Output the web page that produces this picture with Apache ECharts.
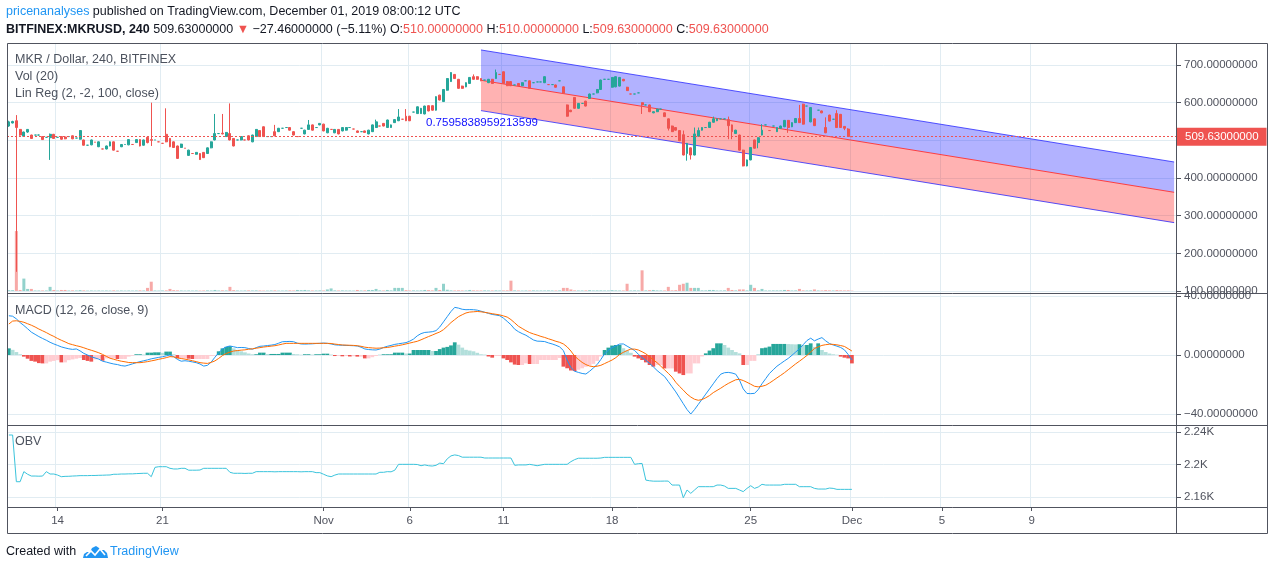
<!DOCTYPE html>
<html><head><meta charset="utf-8">
<script src="https://cdn.jsdelivr.net/npm/echarts@6/dist/echarts.min.js"></script>
<style>html,body{margin:0;padding:0;background:#fff}#chart{width:1274px;height:570px}</style>
</head><body><div id="chart"></div>
<script>
// ---- data: candles [open, close, low, high], one per 4h bar ----
const candles = [
[538,549,536,552],[546,550,545,552],[552,534,151,567],[529,514,512,530],[511,522,510,523],
[522,529,520,530],[514,505,504,515],[514,514,514,514],[514,514,513,515],[510,502,501,511],
[508,508,508,508],[507,516,448,518],[516,505,504,517],[508,508,508,508],[510,503,502,511],
[509,504,503,510],[510,510,510,510],[512,504,503,513],[506,506,506,506],[503,526,502,527],
[501,487,486,502],[487,487,487,487],[488,501,487,502],[495,495,495,495],[483,496,482,497],
[477,477,477,477],[477,485,476,486],[485,496,484,497],[496,474,473,497],[471,471,471,471],
[483,489,482,490],[489,489,489,489],[488,502,487,503],[489,489,489,489],[494,502,493,503],
[502,485,484,503],[487,501,486,502],[508,494,492,510],[502,500,485,600],[501,501,501,501],
[496,496,496,496],[492,492,492,492],[516,496,495,585],[505,483,482,506],[496,481,480,497],
[485,452,451,486],[481,490,480,491],[479,479,479,479],[460,474,459,475],[465,465,465,465],
[463,468,462,469],[465,449,448,466],[468,454,453,469],[465,480,464,481],[480,496,479,497],
[501,518,500,570],[518,518,518,518],[519,517,516,570],[510,521,509,522],[518,501,500,598],
[505,485,484,506],[501,501,501,501],[501,510,500,511],[501,501,501,501],[512,501,500,513],
[496,514,495,515],[510,529,509,530],[526,510,509,527],[536,510,509,537],[510,510,510,510],
[510,510,510,510],[523,512,511,541],[523,532,522,533],[532,532,532,532],[534,534,534,534],
[534,527,526,535],[523,514,513,524],
[510,510,510,510],[532,532,532,532],[517,527,516,528],[529,541,528,554],[541,527,526,542],
[534,534,534,534],[541,545,540,546],[543,525,524,544],[520,532,519,533],[529,529,529,529],
[520,529,519,530],[529,517,516,530],[525,534,524,535],[527,534,526,535],[534,534,534,534],
[530,530,530,530],[525,521,520,526],[523,523,523,523],[525,521,520,526],[517,527,516,528],
[523,541,522,542],[534,549,533,555],[538,538,538,538],[545,538,537,546],[534,554,533,555],
[534,541,533,542],[547,555,546,556],[552,562,551,583],[556,556,556,556],[564,552,551,583],
[564,552,551,565],[575,575,575,575],[571,589,570,590],[571,585,570,586],[570,591,569,592],
[592,578,577,593],[592,580,579,593],[580,616,579,617],[620,607,606,621],[603,635,602,636],
[633,664,632,665],[656,680,655,681],[675,664,663,676],[662,638,637,663],[644,638,637,645],
[642,653,641,654],[651,667,650,668],[669,662,661,675],[669,662,661,670],[664,658,657,665],
[660,660,660,660],[653,662,652,663],[662,651,650,663],[664,680,663,688],[675,675,675,675],
[682,651,650,683],[656,645,644,657],[656,645,644,657],[647,647,647,647],[651,645,644,652],
[645,653,644,654],[658,658,658,658],[658,638,637,659],[653,653,653,653],[655,655,655,655],
[655,655,655,655],[653,669,652,670],[648,648,648,648],[648,648,648,648],[647,641,640,648],
[658,658,658,658],[642,625,624,643],[594,564,563,595],[580,576,575,581],[614,585,584,615],
[585,598,584,599],[598,598,598,598],[604,591,590,605],
[611,623,610,624],[623,623,623,623],[626,635,625,636],[635,660,634,661],[662,662,662,662],
[662,662,662,662],[641,667,640,668],[642,669,641,670],[644,667,643,668],[662,658,657,663],
[641,632,631,642],[623,623,623,623],[623,623,623,623],[626,626,626,626],[600,594,570,601],
[594,594,594,594],[594,576,575,595],[573,576,572,577],[576,583,575,584],[583,583,583,583],
[573,563,562,574],[557,532,526,558],[538,523,522,539],[534,527,526,535],[526,499,498,527],
[515,461,460,526],[465,492,446,493],[480,461,449,481],[461,517,460,534],[511,526,510,534],
[527,534,526,535],[534,534,534,534],[534,548,533,549],[548,557,547,563],[552,557,551,558],
[557,557,557,557],[557,557,557,557],[555,539,503,563],[541,523,503,542],[518,527,517,528],
[514,474,473,515],[474,432,431,475],[432,448,431,449],[448,481,447,482],[501,479,478,502],
[494,507,479,508],[514,527,513,543],[541,541,541,541],[526,526,526,526],[538,538,538,538],
[523,534,522,535],[532,538,531,539],[536,553,535,554],[553,534,520,554],[536,547,535,548],
[547,558,546,559],[558,547,546,594],[596,543,542,597],[591,591,591,591],[549,587,548,588],
[557,539,538,558],[580,580,580,580],[578,573,572,579],[534,520,519,561],[567,551,550,568],
[556,556,556,556],[571,534,533,580],[569,534,533,570],[537,532,527,538],[530,510,509,532],
[510,509.63,509.63,510]
];
const volumes = [
0.8,0.8,58,1,12,2,2,0.5,0.5,0.5,
0.5,4,1,0.5,1,1,0.5,0.6,0.5,0.8,
0.6,0.4,0.5,0.4,0.5,0.4,0.5,0.4,0.6,0.4,
0.5,0.4,0.5,0.4,0.5,0.6,0.5,3,9,0.5,
0.4,0.5,0.6,2,0.8,0.6,0.5,0.4,0.5,0.4,
0.5,0.4,0.5,0.6,0.5,1,0.5,0.6,0.5,4,
0.8,0.5,0.4,0.5,0.6,0.5,0.6,0.5,0.4,0.4,
0.5,0.6,0.4,0.4,0.5,0.6,0.5,1,0.8,1,
0.6,0.5,0.5,0.6,0.5,1.5,2.5,0.6,0.5,0.6,
0.5,0.5,0.4,1,0.5,0.6,1,1,2,0.6,
0.5,1,0.6,3,3,3,0.8,0.5,0.6,0.5,
0.6,1,0.8,0.6,3,1,7,1.2,0.6,0.5,
0.6,0.5,0.5,1,0.6,0.5,0.5,0.6,0.5,0.5,
0.6,0.5,0.5,0.6,10,0.6,0.5,0.4,0.5,0.5,
0.6,0.5,0.5,0.5,0.6,0.5,0.5,0.6,3,3,
1.5,0.6,0.5,0.5,0.6,0.8,0.5,0.6,0.6,0.5,
0.5,0.8,0.6,0.5,0.5,7,0.5,0.6,0.5,20,
0.6,0.8,1,0.6,0.5,0.5,4,0.6,0.8,6,
7,8,3,3,3,0.6,0.6,1,1,0.5,
0.5,0.6,3,1,0.6,1.5,1.5,0.6,6,3,
0.6,2,0.5,0.5,0.6,0.6,0.6,1,1,0.5,
0.6,2,0.6,0.5,0.6,1.5,0.5,0.5,0.8,0.6,
0.5,0.8,0.6,0.5,0.6,0.3
];
const macdLine = [
26.6,26.3,24.5,22,20,17.8,15.5,14,12.5,11.2,
10,8.6,7.5,6.5,5.5,4.8,4.2,3.8,4.1,2.8,
1.1,0,-1.2,-2,-2.8,-4.2,-4.8,-5.5,-6.1,-6.5,
-7.2,-7.5,-6.8,-6,-5.2,-4.5,-3.9,-3.3,-2.6,-2.1,
-1.6,-1.2,-0.6,0,-1.1,-3,-4.2,-3.9,-4.2,-4.7,
-5.2,-6.1,-7.5,-7,-4.8,-1.5,1.5,4,5.5,6.1,
5.6,5,5.1,5,4.4,3.9,5,5.9,6.1,6.4,
6.7,7.1,8,9,9.1,9.2,9,8,7.5,7.4,
7.5,7.6,7.8,7.9,8.1,7.9,7.5,6.9,6.7,6.6,
6.5,6.4,6.3,6.1,5.3,4.1,3.7,3.5,3.4,4,
5.1,5.9,6.5,7.2,7.6,8,8.4,9.4,10.8,13,
14.5,15.3,15.5,15.8,16.5,19,22.5,26,29.5,32.3,
31.8,31,30.7,30.8,30.7,30.4,29.7,29,28.2,27.5,
27.1,26.6,25,22.8,20.5,17.5,15.8,14.5,13.4,11.8,
10.2,9.4,9.3,9.1,8.2,7.5,6.6,5.5,3,-3.5,
-8.5,-11,-11.8,-12.5,-12.9,-11,-8.8,-6.5,-3,0.8,
3.2,5,6.2,7.4,7.5,6,4.5,3.1,0.5,-1.8,
-3.6,-5.7,-8,-10.5,-12.6,-14.6,-18,-21.5,-25,-29,
-33,-37,-40,-37,-33.5,-30,-26.5,-23,-19.5,-16,
-13,-12,-11.8,-12.2,-13,-17,-23,-26.1,-26.2,-26,
-23.5,-19.5,-16,-12.5,-10,-7.6,-5.8,-4,-2.3,-0.2,
2,4.2,7,9.8,11.4,9.6,10.8,11.8,9.6,7.8,
6.8,6,5.1,3.5,0.4,-3.4
];
const signalLine = [
21,23,23.2,22.8,22.2,21.2,20.2,19,17.6,16.4,
15.2,13.8,12.6,11.2,10,8.9,7.7,7,6.3,5.7,
4.9,4,3.2,2.4,1.5,0.4,-0.9,-2.2,-2.9,-3.6,
-4.2,-4.6,-5.1,-5.2,-5.2,-5.2,-4.9,-4.5,-4,-3.5,
-2.9,-2.4,-1.8,-1.1,-1.3,-1.9,-2.4,-2.8,-3.3,-3.9,
-4.5,-5.2,-5.5,-5.7,-5,-4,-2.3,-0.4,1,2,
2.7,3,3.3,3.5,3.9,4.2,4.6,5,5.4,5.7,
6,6.3,6.8,7.4,7.9,7.9,7.9,7.9,7.9,7.9,
7.9,7.9,7.9,7.9,7.9,7.9,7.8,7.4,7.1,6.8,
6.7,6.6,6.5,6.3,5.9,5.3,5,4.8,4.6,4.7,
4.9,5.1,5.5,6,6.4,6.9,7.5,8.1,8.7,9.3,
10.3,11.4,12.5,13.5,14.6,15.6,17.2,19.5,22,24,
26,27.3,28.5,29.1,29.3,29.5,29.3,28.9,28.5,28,
27.6,27.2,26.5,25.7,24,21.8,19.5,18,16.5,15.2,
14.3,13.5,12.6,11.9,11,10.2,9.3,8.6,7.5,5.5,
2.7,-0.8,-3,-5,-6.5,-7.5,-7.9,-7.6,-7,-5.8,
-4.6,-3.4,-1.8,0.4,1.8,3,4,4,3.4,2.2,
0.8,-1.2,-3.3,-5.2,-7.6,-10,-12.4,-15,-18.5,-21.3,
-23.8,-26.5,-28.5,-30,-30.7,-30.2,-29,-27.5,-25.5,-24,
-22.5,-20.8,-19.3,-18,-16.8,-16.5,-17.3,-18.5,-19.8,-21.2,
-21.6,-21.2,-20.5,-19,-17.3,-15.5,-13.8,-12,-10,-8,
-6,-4.2,-2.3,-0.3,2,4.4,5.5,6.5,7,7.3,
7.2,6.9,6.4,5.8,4.3,2.7
];
const macdHist = [
4.5,3.5,2,0.5,-1.1,-2.5,-4,-4.5,-5.5,-5.7,
-5.7,-4.5,-4,-3.5,-5,-5,-3.5,-3,-2.5,-2,
-3.4,-4,-4.5,-3,-2.5,-3.9,-2.3,-2.3,-2.3,-2.7,
-2.7,-2.7,-1.1,-0.5,0.5,0.5,0.3,1.6,1.6,1.8,
1.8,1.5,2.3,2.3,0.5,-2.3,-2.3,-2.3,-2.5,-2.7,
-2.7,-2.7,-2.7,-2.7,-0.7,-0.5,2.5,4.5,5.5,6,
4.5,3.5,2.5,1.8,1,0.5,0.5,1.6,1.6,0.7,
0.7,0.7,0.7,1.6,1.6,1.6,0.7,0.5,0.2,0.5,
0.5,0.3,0.5,0.5,0.9,0.9,0.3,-0.7,-0.5,-0.9,
-0.7,-1,-0.8,-1.1,-1.1,-2.3,-2.3,-1.5,-0.7,0.1,
0.5,0.5,0.5,1.6,1.6,1.6,1,1,3.4,3.4,
3.4,3.4,3.4,2.7,2.7,4,5,5.5,6.5,8.6,
7,5,3.5,3,2.5,1.5,0.5,0.3,-1,-1.8,
-0.7,-0.7,-2.3,-3.4,-5,-6.5,-6.8,-6.8,-5.7,-6.1,
-6.1,-6.1,-3.4,-3.4,-3.4,-3.4,-3.4,-2,-7.9,-9,
-10.5,-10.9,-10,-9,-8,-7,-6,-4,-1,3.4,
5,6.4,6.8,6.8,4.6,3,1.5,-1.1,-2.3,-3.4,
-5,-6.8,-7.9,-6.8,-6.8,-9.1,-9.1,-9.1,-11.3,-12.5,
-13.6,-12.5,-12.5,-5.7,-5.7,-1,1.1,3,4.6,7.9,
7.9,6.8,5,3.4,2,1.1,-6.8,-6.8,-4,-4,
0.2,4.6,5,5.7,7.5,7.5,7.5,7.5,7.4,7.3,
7.2,7.3,6.8,6.8,7.9,5.5,7.9,3.4,2,1,
0.5,0.2,-1.1,-1.8,-2.3,-5.7
];
const obv = [
2236.3,2236.3,2178.8,2178.8,2191.2,2188.0,2185.8,2185.8,2185.6,2185.8,
2191.2,2188.3,2188.3,2187.0,2185.0,2185.4,2185.5,2185.8,2186.0,2186.3,
2186.3,2186.3,2186.5,2186.5,2186.7,2186.8,2187.0,2187.1,2188.0,2188.0,
2188.3,2188.3,2188.5,2188.5,2188.8,2189.0,2189.2,2189.2,2185.0,2196.5,
2197.3,2197.3,2197.3,2195.3,2194.5,2194.5,2195.3,2195.3,2193.0,2193.0,
2193.0,2193.2,2195.3,2195.3,2195.3,2195.3,2195.3,2195.3,2195.3,2190.4,
2189.2,2189.2,2189.2,2189.0,2189.2,2189.2,2191.2,2191.2,2191.2,2191.2,
2191.2,2191.0,2191.2,2191.2,2191.2,2191.2,2191.2,2191.2,2191.0,2191.2,
2191.2,2191.2,2190.0,2190.0,2188.0,2186.0,2185.0,2187.0,2188.3,2188.3,
2188.3,2188.3,2188.3,2188.3,2188.3,2188.3,2188.3,2188.3,2188.3,2190.4,
2190.4,2191.2,2191.0,2193.0,2200.2,2200.2,2200.2,2200.2,2200.2,2200.0,
2198.5,2199.5,2198.5,2198.1,2199.0,2201.7,2201.0,2207.0,2210.6,2211.8,
2211.0,2209.0,2209.0,2209.0,2209.0,2209.0,2209.0,2208.0,2208.0,2208.0,
2208.0,2208.0,2208.0,2208.0,2208.0,2199.0,2199.5,2199.5,2199.5,2200.2,
2199.4,2198.5,2199.4,2200.2,2200.2,2200.2,2200.2,2200.2,2200.2,2200.2,
2203.5,2206.0,2207.7,2207.7,2207.7,2207.7,2207.7,2207.7,2208.0,2208.8,
2208.8,2208.8,2208.8,2208.8,2208.8,2208.8,2208.8,2200.2,2201.0,2201.3,
2180.8,2180.0,2179.5,2179.5,2179.5,2179.6,2179.6,2174.7,2174.7,2174.7,
2159.1,2168.6,2164.5,2168.6,2172.7,2172.7,2172.7,2172.7,2172.7,2174.7,
2174.7,2173.5,2170.6,2170.6,2170.6,2168.6,2166.6,2170.6,2173.9,2170.6,
2172.3,2175.6,2174.7,2174.7,2174.7,2174.7,2174.7,2175.6,2175.6,2175.6,
2175.6,2172.7,2172.7,2172.7,2172.7,2170.6,2169.8,2169.8,2169.8,2171.0,
2170.6,2169.4,2169.4,2169.4,2169.4,2169.4
];
// slots on the time axis (past bars + empty future bars)
const slotCount = 312;
const tickIdx = [13, 41, 84, 107, 132, 161, 198, 225, 249, 273];
const tickText = ['14', '21', 'Nov', '6', '11', '18', '25', 'Dec', '5', '9'];
// linear regression channel
const linRegStartIdx = 126, linRegEndIdx = 311;
const linRegStartMid = 659.4, linRegEndMid = 362, linRegDev = 80.5;
const pearsonR = '0.7595838959213599';
const lastPrice = 509.63;

// ---- chart ----
const FONT = '"Liberation Sans", Arial, sans-serif';
const GRID = '#e1ecf2', FRAME = '#50535e', AX = '#50535e';
const UP = '#26a69a', DN = '#ef5350';
const cats = Array.from({length: slotCount}, (_, i) => String(i));
const tickMap = {}; tickIdx.forEach((k, j) => tickMap[k] = tickText[j]);
const isTick = (i) => tickMap[i] !== undefined;

const chart = echarts.init(document.getElementById('chart'), null, {renderer: 'canvas'});
const hiddenX = (gi) => ({type: 'category', gridIndex: gi, data: cats, boundaryGap: true,
  axisLine: {show: false}, axisTick: {show: false}, axisLabel: {show: false}, splitLine: {show: false}});
const rightY = (gi, min, max, interval, fmt, extra) => Object.assign({
  type: 'value', gridIndex: gi, position: 'right', min, max, interval,
  axisLine: {show: false},
  axisTick: {show: true, length: 5, lineStyle: {color: AX}},
  axisLabel: {color: AX, fontSize: 11.5, fontFamily: FONT, margin: 8, formatter: fmt},
  splitLine: {show: true, lineStyle: {color: GRID, width: 1}}
}, extra || {});
const rs = (color, weight) => ({color, fontSize: 12.5, fontFamily: FONT, fontWeight: weight || 'normal'});
const txt = (left, top, text, color) => ({left, top, text, padding: 0,
  textStyle: {color, fontSize: 12.5, fontFamily: FONT, fontWeight: 'normal'}});

const option = {
  animation: false,
  backgroundColor: '#ffffff',
  textStyle: {fontFamily: FONT},
  title: [
    {left: 6, top: 5, padding: 0,
     text: '{a|pricenanalyses} {b|published on TradingView.com, December 01, 2019 08:00:12 UTC}',
     textStyle: {fontWeight: 'normal', fontSize: 12.5, rich: {a: rs('#2196f3'), b: rs('#131722')}}},
    {left: 6, top: 23, padding: 0,
     text: '{k|BITFINEX:MKRUSD, 240} {n|509.63000000} {r|▼} {n|−27.46000000 (−5.11%)} {n|O:}{r|510.00000000} {n|H:}{r|510.00000000} {n|L:}{r|509.63000000} {n|C:}{r|509.63000000}',
     textStyle: {fontWeight: 'normal', fontSize: 12.5, rich: {k: rs('#131722', 'bold'), n: rs('#131722'), r: rs('#ef5350')}}},
    txt(15, 53, 'MKR / Dollar, 240, BITFINEX', '#4c525e'),
    txt(15, 70, 'Vol (20)', '#4c525e'),
    txt(15, 87, 'Lin Reg (2, -2, 100, close)', '#4c525e'),
    txt(15, 304, 'MACD (12, 26, close, 9)', '#4c525e'),
    txt(15, 435, 'OBV', '#4c525e'),
    txt(6, 545, 'Created with', '#131722'),
    txt(110, 545, 'TradingView', '#2196f3')
  ],
  grid: [
    {left: 7, top: 43, width: 1169, height: 248, outerBoundsMode: 'none'},
    {left: 7, top: 296, width: 1169, height: 118, outerBoundsMode: 'none'},
    {left: 7, top: 432, width: 1169, height: 65, outerBoundsMode: 'none'},
    {left: 7, top: 43, width: 1169, height: 464, outerBoundsMode: 'none'}
  ],
  xAxis: [
    hiddenX(0), hiddenX(1), hiddenX(2),
    {type: 'category', gridIndex: 3, data: cats, boundaryGap: true, position: 'bottom',
     axisLine: {show: false},
     axisTick: {show: true, length: 4, alignWithLabel: true, interval: (i) => isTick(i), lineStyle: {color: AX}},
     axisLabel: {show: true, interval: (i) => isTick(i), formatter: (v, i) => tickMap[i] || '',
       color: AX, fontSize: 11.5, fontFamily: FONT, margin: 8},
     splitLine: {show: true, interval: (i) => isTick(i), lineStyle: {color: GRID, width: 1}}}
  ],
  yAxis: [
    rightY(0, 100, 758.4, 100, null, {axisLabel: {color: AX, fontSize: 11.5, fontFamily: FONT, margin: 8, showMaxLabel: false,
      formatter: (v) => (v === 500 || v > 700) ? '' : v.toFixed(8)}}),
    {type: 'value', gridIndex: 0, min: 0, max: 240, show: false, splitLine: {show: false}},
    rightY(1, -40, 40, 40, (v) => (v < 0 ? '−' : '') + Math.abs(v).toFixed(8)),
    rightY(2, 2160, 2240, 40, (v) => (v / 1000) + 'K'),
    {type: 'value', gridIndex: 3, min: 0, max: 1, show: false, splitLine: {show: false}}
  ],
  series: [
    {type: 'custom', name: 'linreg', xAxisIndex: 0, yAxisIndex: 0, silent: true, z: 1,
     data: [[linRegStartIdx, linRegStartMid, linRegEndIdx, linRegEndMid, linRegDev]],
     encode: {x: 0, y: 1},
     renderItem: function (params, api) {
       const s = api.value(0), sm = api.value(1), e = api.value(2), em = api.value(3), d = api.value(4);
       const c = (i, v) => api.coord([i, v]);
       const su = c(s, sm + d), eu = c(e, em + d), sM = c(s, sm), eM = c(e, em), sl = c(s, sm - d), el = c(e, em - d);
       return {type: 'group', children: [
         {type: 'polygon', shape: {points: [su, eu, eM, sM]}, style: {fill: 'rgba(0,0,255,0.3)'}},
         {type: 'polygon', shape: {points: [sM, eM, el, sl]}, style: {fill: 'rgba(255,0,0,0.3)'}},
         {type: 'line', shape: {x1: su[0], y1: su[1], x2: eu[0], y2: eu[1]}, style: {stroke: 'rgba(30,30,255,0.75)', lineWidth: 1}},
         {type: 'line', shape: {x1: sM[0], y1: sM[1], x2: eM[0], y2: eM[1]}, style: {stroke: 'rgba(255,40,40,0.85)', lineWidth: 1}},
         {type: 'line', shape: {x1: sl[0], y1: sl[1], x2: el[0], y2: el[1]}, style: {stroke: 'rgba(30,30,255,0.75)', lineWidth: 1}},
         {type: 'text', x: sl[0] + 1, y: sl[1] + 12.5, style: {text: pearsonR, fill: '#1010ff',
           font: '11.5px ' + FONT, align: 'center', verticalAlign: 'middle'}}
       ]};
     }},
    {type: 'bar', name: 'Vol', xAxisIndex: 0, yAxisIndex: 1, data: volumes, barWidth: 3, z: 2, silent: true,
     itemStyle: {color: (p) => candles[p.dataIndex][1] >= candles[p.dataIndex][0] ? 'rgba(38,166,154,0.5)' : 'rgba(239,83,80,0.5)'}},
    {type: 'candlestick', name: 'MKRUSD', xAxisIndex: 0, yAxisIndex: 0, data: candles, barWidth: 2.4, z: 3,
     itemStyle: {color: UP, color0: DN, borderColor: UP, borderColor0: DN, borderWidth: 1},
     markLine: {silent: true, symbol: ['none', 'none'], animation: false,
       lineStyle: {color: DN, type: [2, 2], width: 1},
       label: {show: true, position: 'end', distance: 1, formatter: lastPrice.toFixed(8), color: '#ffffff',
         backgroundColor: DN, padding: [3, 8, 3, 8], fontSize: 11.5, fontFamily: FONT},
       data: [{yAxis: lastPrice}]}},
    {type: 'bar', name: 'Histogram', xAxisIndex: 1, yAxisIndex: 2, data: macdHist, barCategoryGap: '0%', silent: true,
     itemStyle: {color: (p) => {
       const v = macdHist[p.dataIndex], prev = p.dataIndex > 0 ? macdHist[p.dataIndex - 1] : v;
       if (v >= 0) return v >= prev ? '#26a69a' : '#b2dfdb';
       return v < prev ? '#ef5350' : '#ffcdd2';
     }}},
    {type: 'line', name: 'MACD', xAxisIndex: 1, yAxisIndex: 2, data: macdLine, symbol: 'none', clip: false,
     lineStyle: {color: '#2196f3', width: 1}, silent: true},
    {type: 'line', name: 'Signal', xAxisIndex: 1, yAxisIndex: 2, data: signalLine, symbol: 'none', clip: false,
     lineStyle: {color: '#ff6d00', width: 1}, silent: true},
    {type: 'line', name: 'OBV', xAxisIndex: 2, yAxisIndex: 3, data: obv, symbol: 'none', clip: false,
     lineStyle: {color: '#3bc4dc', width: 1}, silent: true}
  ],
  graphic: [
    {type: 'rect', z: 100, silent: true, shape: {x: 7.5, y: 43.5, width: 1260, height: 490}, style: {fill: 'none', stroke: FRAME, lineWidth: 1}},
    {type: 'line', z: 100, silent: true, shape: {x1: 7, y1: 293.5, x2: 1268, y2: 293.5}, style: {stroke: FRAME, lineWidth: 1}},
    {type: 'line', z: 100, silent: true, shape: {x1: 7, y1: 425.5, x2: 1268, y2: 425.5}, style: {stroke: FRAME, lineWidth: 1}},
    {type: 'line', z: 100, silent: true, shape: {x1: 7, y1: 507.5, x2: 1268, y2: 507.5}, style: {stroke: FRAME, lineWidth: 1}},
    {type: 'line', z: 100, silent: true, shape: {x1: 1176.5, y1: 43, x2: 1176.5, y2: 534}, style: {stroke: FRAME, lineWidth: 1}},
    {type: 'polygon', z: 100, silent: true, x: 83, y: 544,
     shape: {points: [[0, 14], [1, 10], [4, 8], [7, 8], [9, 4], [13, 2], [16, 4], [18, 6], [21, 6], [24, 9], [25, 14]]},
     style: {fill: '#2196f3'}},
    {type: 'polyline', z: 101, silent: true, x: 83, y: 544,
     shape: {points: [[3, 12], [8, 7], [12, 11], [17, 5], [22, 11]]},
     style: {stroke: '#ffffff', lineWidth: 1.6, fill: 'none'}}
  ]
};
chart.setOption(option);
</script>
</body></html>
